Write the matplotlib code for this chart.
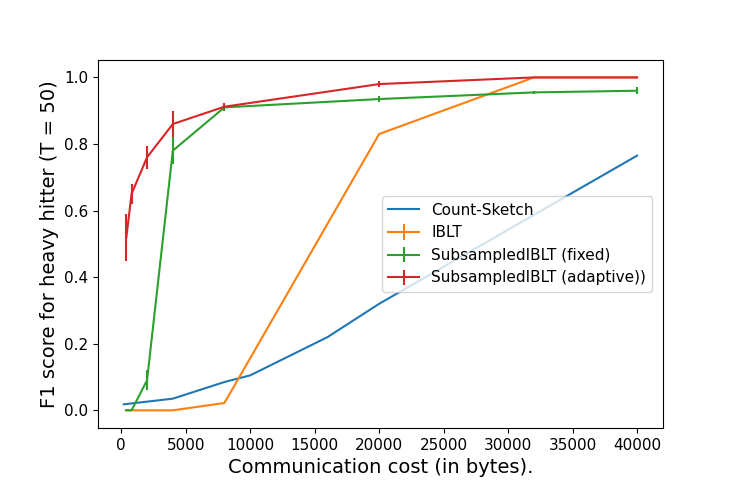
import matplotlib
matplotlib.use("Agg")
import matplotlib.pyplot as plt

cs_x = [200, 4000, 8000, 10000, 16000, 20000, 40000]
cs_y = [0.018, 0.035, 0.085, 0.105, 0.22, 0.32, 0.765]
ib_x = [400, 800, 4000, 8000, 20000, 32000, 40000]
ib_y = [0.0, 0.0, 0.0, 0.022, 0.83, 1.0, 1.0]
ib_e = [0, 0, 0, 0, 0, 0, 0]
fx_x = [400, 800, 2000, 4000, 8000, 20000, 32000, 40000]
fx_y = [0.0, 0.0, 0.09, 0.78, 0.91, 0.935, 0.955, 0.96]
fx_e = [0.003, 0.003, 0.03, 0.04, 0.01, 0.01, 0.004, 0.01]
ad_x = [400, 800, 2000, 4000, 8000, 20000, 32000, 40000]
ad_y = [0.52, 0.65, 0.76, 0.86, 0.912, 0.98, 1.0, 1.0]
ad_e = [0.07, 0.03, 0.035, 0.04, 0.01, 0.01, 0.002, 0.002]

fig = plt.figure(figsize=(7.38, 4.92), dpi=100)
ax = fig.add_axes([0.133, 0.13, 0.765, 0.748])
ax.plot(cs_x, cs_y, color="#1f77b4", label="Count-Sketch")
ax.errorbar(ib_x, ib_y, yerr=ib_e, color="#ff7f0e", label="IBLT")
ax.errorbar(fx_x, fx_y, yerr=fx_e, color="#2ca02c", label="SubsampledIBLT (fixed)")
ax.errorbar(ad_x, ad_y, yerr=ad_e, color="#d62728", label="SubsampledIBLT (adaptive))")
ax.set_xlabel("Communication cost (in bytes).", fontsize=14)
ax.set_ylabel("F1 score for heavy hitter (T = 50)", fontsize=14)
ax.tick_params(labelsize=11)
ax.set_xticks(range(0, 40001, 5000))
ax.legend(fontsize=11, loc="center right", bbox_to_anchor=(0.995, 0.5))
fig.savefig("out.png")
